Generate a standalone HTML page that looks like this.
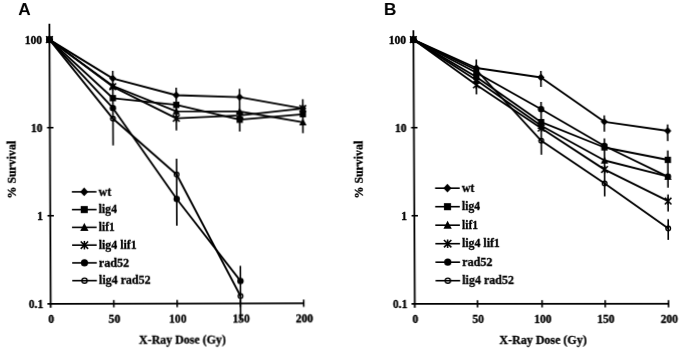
<!DOCTYPE html>
<html><head><meta charset="utf-8"><title>Figure</title>
<style>html,body{margin:0;padding:0;background:#fff}svg{display:block}</style></head>
<body>
<svg width="685" height="354" viewBox="0 0 685 354">
<rect width="685" height="354" fill="#fff"/>
<g style="filter:blur(0.3px)">
<g transform="matrix(1 -0.0024 0.0046 1 -0.1095 0.1186)">
<path d="M49.40 23.80L49.40 307.7" stroke="#000" stroke-width="1.8" fill="none"/>
<path d="M46.20 303.8L302.40 303.8" stroke="#000" stroke-width="1.8" fill="none"/>
<path d="M46.60 39.60L53.00 39.60" stroke="#000" stroke-width="1.6"/>
<text transform="translate(42.00 43.80) scale(0.95 1)" text-anchor="end" stroke="#000" stroke-width="0.35" font-family='"Liberation Serif", serif' font-weight="bold" font-size="12.2px">100</text>
<path d="M46.60 127.67L53.00 127.67" stroke="#000" stroke-width="1.6"/>
<text transform="translate(42.00 131.87) scale(0.95 1)" text-anchor="end" stroke="#000" stroke-width="0.35" font-family='"Liberation Serif", serif' font-weight="bold" font-size="12.2px">10</text>
<path d="M46.60 215.73L53.00 215.73" stroke="#000" stroke-width="1.6"/>
<text transform="translate(42.00 219.93) scale(0.95 1)" text-anchor="end" stroke="#000" stroke-width="0.35" font-family='"Liberation Serif", serif' font-weight="bold" font-size="12.2px">1</text>
<text transform="translate(42.00 308.00) scale(0.95 1)" text-anchor="end" stroke="#000" stroke-width="0.35" font-family='"Liberation Serif", serif' font-weight="bold" font-size="12.2px">0.1</text>
<path d="M112.55 300.2L112.55 307.5" stroke="#000" stroke-width="1.6"/>
<path d="M175.90 300.2L175.90 307.5" stroke="#000" stroke-width="1.6"/>
<path d="M239.30 300.2L239.30 307.5" stroke="#000" stroke-width="1.6"/>
<path d="M302.45 300.2L302.45 307.5" stroke="#000" stroke-width="1.6"/>
<text transform="translate(50.00 323.0) scale(0.95 1)" text-anchor="middle" stroke="#000" stroke-width="0.35" font-family='"Liberation Serif", serif' font-weight="bold" font-size="12.2px">0</text>
<text transform="translate(113.15 323.0) scale(0.95 1)" text-anchor="middle" stroke="#000" stroke-width="0.35" font-family='"Liberation Serif", serif' font-weight="bold" font-size="12.2px">50</text>
<text transform="translate(176.50 323.0) scale(0.95 1)" text-anchor="middle" stroke="#000" stroke-width="0.35" font-family='"Liberation Serif", serif' font-weight="bold" font-size="12.2px">100</text>
<text transform="translate(239.90 323.0) scale(0.95 1)" text-anchor="middle" stroke="#000" stroke-width="0.35" font-family='"Liberation Serif", serif' font-weight="bold" font-size="12.2px">150</text>
<text transform="translate(303.05 323.0) scale(0.95 1)" text-anchor="middle" stroke="#000" stroke-width="0.35" font-family='"Liberation Serif", serif' font-weight="bold" font-size="12.2px">200</text>
<text x="181.00" y="343.5" text-anchor="middle" textLength="86.8" lengthAdjust="spacingAndGlyphs" stroke="#000" stroke-width="0.3" font-family='"Liberation Serif", serif' font-weight="bold" font-size="12px">X-Ray Dose (Gy)</text>
<text transform="translate(14.70 169.6) rotate(-90)" text-anchor="middle" textLength="57.7" lengthAdjust="spacingAndGlyphs" stroke="#000" stroke-width="0.3" font-family='"Liberation Serif", serif' font-weight="bold" font-size="12px">% Survival</text>
<text x="18.30" y="15.4" font-family='"Liberation Sans", sans-serif' font-weight="bold" font-size="17.3px">A</text>
<path d="M112.55 71.00L112.55 145.60" stroke="#000" stroke-width="1.6"/>
<path d="M175.90 88.00L175.90 130.80" stroke="#000" stroke-width="1.6"/>
<path d="M239.30 89.30L239.30 132.00" stroke="#000" stroke-width="1.6"/>
<path d="M302.45 99.80L302.45 133.80" stroke="#000" stroke-width="1.6"/>
<path d="M175.90 158.90L175.90 225.90" stroke="#000" stroke-width="1.6"/>
<path d="M239.30 266.30L239.30 321.00" stroke="#000" stroke-width="1.6"/>
<path d="M49.40 39.60 L112.55 78.60 L175.90 95.50 L239.30 97.60 L302.45 109.20" stroke="#000" stroke-width="1.85" fill="none" stroke-linejoin="round"/>
<path d="M49.40 39.60 L112.55 98.30 L175.90 105.20 L239.30 120.20 L302.45 114.80" stroke="#000" stroke-width="1.85" fill="none" stroke-linejoin="round"/>
<path d="M49.40 39.60 L112.55 86.00 L175.90 111.60 L239.30 111.90 L302.45 122.90" stroke="#000" stroke-width="1.85" fill="none" stroke-linejoin="round"/>
<path d="M49.40 39.60 L112.55 86.80 L175.90 118.60 L239.30 115.80 L302.45 109.20" stroke="#000" stroke-width="1.85" fill="none" stroke-linejoin="round"/>
<path d="M49.40 39.60 L112.55 108.20 L175.90 199.20 L239.30 281.40" stroke="#000" stroke-width="1.85" fill="none" stroke-linejoin="round"/>
<path d="M49.40 39.60 L112.55 118.80 L175.90 174.80 L239.30 296.50" stroke="#000" stroke-width="1.85" fill="none" stroke-linejoin="round"/>
<path d="M49.40 35.70L53.00 39.60L49.40 43.50L45.80 39.60Z" fill="#000"/>
<path d="M112.55 74.70L116.15 78.60L112.55 82.50L108.95 78.60Z" fill="#000"/>
<path d="M175.90 91.60L179.50 95.50L175.90 99.40L172.30 95.50Z" fill="#000"/>
<path d="M239.30 93.70L242.90 97.60L239.30 101.50L235.70 97.60Z" fill="#000"/>
<path d="M302.45 105.30L306.05 109.20L302.45 113.10L298.85 109.20Z" fill="#000"/>
<rect x="46.25" y="36.45" width="6.30" height="6.30" fill="#000"/>
<rect x="109.40" y="95.15" width="6.30" height="6.30" fill="#000"/>
<rect x="172.75" y="102.05" width="6.30" height="6.30" fill="#000"/>
<rect x="236.15" y="117.05" width="6.30" height="6.30" fill="#000"/>
<rect x="299.30" y="111.65" width="6.30" height="6.30" fill="#000"/>
<path d="M49.40 35.60L53.10 42.80L45.70 42.80Z" fill="#000"/>
<path d="M112.55 82.00L116.25 89.20L108.85 89.20Z" fill="#000"/>
<path d="M175.90 107.60L179.60 114.80L172.20 114.80Z" fill="#000"/>
<path d="M239.30 107.90L243.00 115.10L235.60 115.10Z" fill="#000"/>
<path d="M302.45 118.90L306.15 126.10L298.75 126.10Z" fill="#000"/>
<path d="M46.10 36.30L52.70 42.90M46.10 42.90L52.70 36.30M49.40 35.70L49.40 43.50" stroke="#000" stroke-width="1.55" fill="none"/>
<path d="M109.25 83.50L115.85 90.10M109.25 90.10L115.85 83.50M112.55 82.90L112.55 90.70" stroke="#000" stroke-width="1.55" fill="none"/>
<path d="M172.60 115.30L179.20 121.90M172.60 121.90L179.20 115.30M175.90 114.70L175.90 122.50" stroke="#000" stroke-width="1.55" fill="none"/>
<path d="M236.00 112.50L242.60 119.10M236.00 119.10L242.60 112.50M239.30 111.90L239.30 119.70" stroke="#000" stroke-width="1.55" fill="none"/>
<path d="M299.15 105.90L305.75 112.50M299.15 112.50L305.75 105.90M302.45 105.30L302.45 113.10" stroke="#000" stroke-width="1.55" fill="none"/>
<circle cx="49.40" cy="39.60" r="3.20" fill="#000"/>
<circle cx="112.55" cy="108.20" r="3.20" fill="#000"/>
<circle cx="175.90" cy="199.20" r="3.20" fill="#000"/>
<circle cx="239.30" cy="281.40" r="3.20" fill="#000"/>
<circle cx="49.40" cy="39.60" r="2.30" fill="none" stroke="#000" stroke-width="1.4"/>
<circle cx="112.55" cy="118.80" r="2.30" fill="none" stroke="#000" stroke-width="1.4"/>
<circle cx="175.90" cy="174.80" r="2.30" fill="none" stroke="#000" stroke-width="1.4"/>
<circle cx="239.30" cy="296.50" r="2.30" fill="none" stroke="#000" stroke-width="1.4"/>
<path d="M71.10 191.90L95.70 191.90" stroke="#000" stroke-width="1.6"/>
<path d="M83.40 187.53L87.43 191.90L83.40 196.27L79.37 191.90Z" fill="#000"/>
<text x="97.80" y="195.50" textLength="12.6" lengthAdjust="spacingAndGlyphs" stroke="#000" stroke-width="0.3" font-family='"Liberation Serif", serif' font-weight="bold" font-size="12.4px">wt</text>
<path d="M71.10 209.66L95.70 209.66" stroke="#000" stroke-width="1.6"/>
<rect x="79.87" y="206.13" width="7.06" height="7.06" fill="#000"/>
<text x="97.80" y="213.26" textLength="18.2" lengthAdjust="spacingAndGlyphs" stroke="#000" stroke-width="0.3" font-family='"Liberation Serif", serif' font-weight="bold" font-size="12.4px">lig4</text>
<path d="M71.10 227.42L95.70 227.42" stroke="#000" stroke-width="1.6"/>
<path d="M83.40 222.94L87.54 231.00L79.26 231.00Z" fill="#000"/>
<text x="97.80" y="231.02" textLength="16.0" lengthAdjust="spacingAndGlyphs" stroke="#000" stroke-width="0.3" font-family='"Liberation Serif", serif' font-weight="bold" font-size="12.4px">lif1</text>
<path d="M71.10 245.18L95.70 245.18" stroke="#000" stroke-width="1.6"/>
<path d="M79.70 241.48L87.10 248.88M79.70 248.88L87.10 241.48M83.40 240.88L83.40 249.48" stroke="#000" stroke-width="1.55" fill="none"/>
<text x="97.80" y="248.78" textLength="37.8" lengthAdjust="spacingAndGlyphs" stroke="#000" stroke-width="0.3" font-family='"Liberation Serif", serif' font-weight="bold" font-size="12.4px">lig4 lif1</text>
<path d="M71.10 262.94L95.70 262.94" stroke="#000" stroke-width="1.6"/>
<circle cx="83.40" cy="262.94" r="3.58" fill="#000"/>
<text x="97.80" y="266.54" textLength="30.4" lengthAdjust="spacingAndGlyphs" stroke="#000" stroke-width="0.3" font-family='"Liberation Serif", serif' font-weight="bold" font-size="12.4px">rad52</text>
<path d="M71.10 280.70L95.70 280.70" stroke="#000" stroke-width="1.6"/>
<circle cx="83.40" cy="280.70" r="2.58" fill="none" stroke="#000" stroke-width="1.4"/>
<text x="97.80" y="284.30" textLength="51.8" lengthAdjust="spacingAndGlyphs" stroke="#000" stroke-width="0.3" font-family='"Liberation Serif", serif' font-weight="bold" font-size="12.4px">lig4 rad52</text>
</g>
<g transform="matrix(1 -0.0005 0.0051 1 -0.1545 0.2067)">
<path d="M413.40 30.30L413.40 307.7" stroke="#000" stroke-width="1.8" fill="none"/>
<path d="M410.20 303.8L667.30 303.8" stroke="#000" stroke-width="1.8" fill="none"/>
<path d="M410.60 39.60L417.00 39.60" stroke="#000" stroke-width="1.6"/>
<text transform="translate(406.00 43.80) scale(0.95 1)" text-anchor="end" stroke="#000" stroke-width="0.35" font-family='"Liberation Serif", serif' font-weight="bold" font-size="12.2px">100</text>
<path d="M410.60 127.67L417.00 127.67" stroke="#000" stroke-width="1.6"/>
<text transform="translate(406.00 131.87) scale(0.95 1)" text-anchor="end" stroke="#000" stroke-width="0.35" font-family='"Liberation Serif", serif' font-weight="bold" font-size="12.2px">10</text>
<path d="M410.60 215.73L417.00 215.73" stroke="#000" stroke-width="1.6"/>
<text transform="translate(406.00 219.93) scale(0.95 1)" text-anchor="end" stroke="#000" stroke-width="0.35" font-family='"Liberation Serif", serif' font-weight="bold" font-size="12.2px">1</text>
<text transform="translate(406.00 308.00) scale(0.95 1)" text-anchor="end" stroke="#000" stroke-width="0.35" font-family='"Liberation Serif", serif' font-weight="bold" font-size="12.2px">0.1</text>
<path d="M476.20 300.2L476.20 307.5" stroke="#000" stroke-width="1.6"/>
<path d="M540.70 300.2L540.70 307.5" stroke="#000" stroke-width="1.6"/>
<path d="M603.80 300.2L603.80 307.5" stroke="#000" stroke-width="1.6"/>
<path d="M667.20 300.2L667.20 307.5" stroke="#000" stroke-width="1.6"/>
<text transform="translate(413.90 323.0) scale(0.95 1)" text-anchor="middle" stroke="#000" stroke-width="0.35" font-family='"Liberation Serif", serif' font-weight="bold" font-size="12.2px">0</text>
<text transform="translate(476.80 323.0) scale(0.95 1)" text-anchor="middle" stroke="#000" stroke-width="0.35" font-family='"Liberation Serif", serif' font-weight="bold" font-size="12.2px">50</text>
<text transform="translate(541.30 323.0) scale(0.95 1)" text-anchor="middle" stroke="#000" stroke-width="0.35" font-family='"Liberation Serif", serif' font-weight="bold" font-size="12.2px">100</text>
<text transform="translate(604.40 323.0) scale(0.95 1)" text-anchor="middle" stroke="#000" stroke-width="0.35" font-family='"Liberation Serif", serif' font-weight="bold" font-size="12.2px">150</text>
<text transform="translate(667.80 323.0) scale(0.95 1)" text-anchor="middle" stroke="#000" stroke-width="0.35" font-family='"Liberation Serif", serif' font-weight="bold" font-size="12.2px">200</text>
<text x="541.50" y="344.1" text-anchor="middle" textLength="87.4" lengthAdjust="spacingAndGlyphs" stroke="#000" stroke-width="0.3" font-family='"Liberation Serif", serif' font-weight="bold" font-size="12px">X-Ray Dose (Gy)</text>
<text transform="translate(361.90 169.6) rotate(-90)" text-anchor="middle" textLength="57.7" lengthAdjust="spacingAndGlyphs" stroke="#000" stroke-width="0.3" font-family='"Liberation Serif", serif' font-weight="bold" font-size="12px">% Survival</text>
<text x="384.00" y="14.5" font-family='"Liberation Sans", sans-serif' font-weight="bold" font-size="17.3px">B</text>
<path d="M476.20 59.50L476.20 94.40" stroke="#000" stroke-width="1.6"/>
<path d="M540.70 71.00L540.70 87.00" stroke="#000" stroke-width="1.6"/>
<path d="M540.70 102.00L540.70 154.80" stroke="#000" stroke-width="1.6"/>
<path d="M603.80 115.60L603.80 131.80" stroke="#000" stroke-width="1.6"/>
<path d="M603.80 138.60L603.80 196.60" stroke="#000" stroke-width="1.6"/>
<path d="M667.20 124.60L667.20 141.20" stroke="#000" stroke-width="1.6"/>
<path d="M667.20 150.60L667.20 187.80" stroke="#000" stroke-width="1.6"/>
<path d="M667.20 194.60L667.20 211.60" stroke="#000" stroke-width="1.6"/>
<path d="M667.20 219.30L667.20 240.00" stroke="#000" stroke-width="1.6"/>
<path d="M413.30 39.60 L476.20 68.00 L540.70 77.50 L603.80 121.80 L667.20 131.00" stroke="#000" stroke-width="1.85" fill="none" stroke-linejoin="round"/>
<path d="M413.30 39.60 L476.20 77.00 L540.70 122.20 L603.80 147.50 L667.20 160.00" stroke="#000" stroke-width="1.85" fill="none" stroke-linejoin="round"/>
<path d="M413.30 39.60 L476.20 80.30 L540.70 125.80 L603.80 160.50 L667.20 176.70" stroke="#000" stroke-width="1.85" fill="none" stroke-linejoin="round"/>
<path d="M413.30 39.60 L476.20 85.00 L540.70 128.20 L603.80 169.60 L667.20 201.20" stroke="#000" stroke-width="1.85" fill="none" stroke-linejoin="round"/>
<path d="M413.30 39.60 L476.20 72.80 L540.70 109.30 L603.80 146.00 L667.20 176.80" stroke="#000" stroke-width="1.85" fill="none" stroke-linejoin="round"/>
<path d="M413.30 39.60 L476.20 70.00 L540.70 140.80 L603.80 183.60 L667.20 228.50" stroke="#000" stroke-width="1.85" fill="none" stroke-linejoin="round"/>
<path d="M413.30 35.70L416.90 39.60L413.30 43.50L409.70 39.60Z" fill="#000"/>
<path d="M476.20 64.10L479.80 68.00L476.20 71.90L472.60 68.00Z" fill="#000"/>
<path d="M540.70 73.60L544.30 77.50L540.70 81.40L537.10 77.50Z" fill="#000"/>
<path d="M603.80 117.90L607.40 121.80L603.80 125.70L600.20 121.80Z" fill="#000"/>
<path d="M667.20 127.10L670.80 131.00L667.20 134.90L663.60 131.00Z" fill="#000"/>
<rect x="410.15" y="36.45" width="6.30" height="6.30" fill="#000"/>
<rect x="473.05" y="73.85" width="6.30" height="6.30" fill="#000"/>
<rect x="537.55" y="119.05" width="6.30" height="6.30" fill="#000"/>
<rect x="600.65" y="144.35" width="6.30" height="6.30" fill="#000"/>
<rect x="664.05" y="156.85" width="6.30" height="6.30" fill="#000"/>
<path d="M413.30 35.60L417.00 42.80L409.60 42.80Z" fill="#000"/>
<path d="M476.20 76.30L479.90 83.50L472.50 83.50Z" fill="#000"/>
<path d="M540.70 121.80L544.40 129.00L537.00 129.00Z" fill="#000"/>
<path d="M603.80 156.50L607.50 163.70L600.10 163.70Z" fill="#000"/>
<path d="M667.20 172.70L670.90 179.90L663.50 179.90Z" fill="#000"/>
<path d="M410.00 36.30L416.60 42.90M410.00 42.90L416.60 36.30M413.30 35.70L413.30 43.50" stroke="#000" stroke-width="1.55" fill="none"/>
<path d="M472.90 81.70L479.50 88.30M472.90 88.30L479.50 81.70M476.20 81.10L476.20 88.90" stroke="#000" stroke-width="1.55" fill="none"/>
<path d="M537.40 124.90L544.00 131.50M537.40 131.50L544.00 124.90M540.70 124.30L540.70 132.10" stroke="#000" stroke-width="1.55" fill="none"/>
<path d="M600.50 166.30L607.10 172.90M600.50 172.90L607.10 166.30M603.80 165.70L603.80 173.50" stroke="#000" stroke-width="1.55" fill="none"/>
<path d="M663.90 197.90L670.50 204.50M663.90 204.50L670.50 197.90M667.20 197.30L667.20 205.10" stroke="#000" stroke-width="1.55" fill="none"/>
<circle cx="413.30" cy="39.60" r="3.20" fill="#000"/>
<circle cx="476.20" cy="72.80" r="3.20" fill="#000"/>
<circle cx="540.70" cy="109.30" r="3.20" fill="#000"/>
<circle cx="603.80" cy="146.00" r="3.20" fill="#000"/>
<circle cx="667.20" cy="176.80" r="3.20" fill="#000"/>
<circle cx="413.30" cy="39.60" r="2.30" fill="none" stroke="#000" stroke-width="1.4"/>
<circle cx="476.20" cy="70.00" r="2.30" fill="none" stroke="#000" stroke-width="1.4"/>
<circle cx="540.70" cy="140.80" r="2.30" fill="none" stroke="#000" stroke-width="1.4"/>
<circle cx="603.80" cy="183.60" r="2.30" fill="none" stroke="#000" stroke-width="1.4"/>
<circle cx="667.20" cy="228.50" r="2.30" fill="none" stroke="#000" stroke-width="1.4"/>
<path d="M434.30 188.20L458.90 188.20" stroke="#000" stroke-width="1.6"/>
<path d="M446.60 183.83L450.63 188.20L446.60 192.57L442.57 188.20Z" fill="#000"/>
<text x="461.00" y="191.80" textLength="12.6" lengthAdjust="spacingAndGlyphs" stroke="#000" stroke-width="0.3" font-family='"Liberation Serif", serif' font-weight="bold" font-size="12.4px">wt</text>
<path d="M434.30 206.70L458.90 206.70" stroke="#000" stroke-width="1.6"/>
<rect x="443.07" y="203.17" width="7.06" height="7.06" fill="#000"/>
<text x="461.00" y="210.30" textLength="18.2" lengthAdjust="spacingAndGlyphs" stroke="#000" stroke-width="0.3" font-family='"Liberation Serif", serif' font-weight="bold" font-size="12.4px">lig4</text>
<path d="M434.30 225.20L458.90 225.20" stroke="#000" stroke-width="1.6"/>
<path d="M446.60 220.72L450.74 228.78L442.46 228.78Z" fill="#000"/>
<text x="461.00" y="228.80" textLength="16.0" lengthAdjust="spacingAndGlyphs" stroke="#000" stroke-width="0.3" font-family='"Liberation Serif", serif' font-weight="bold" font-size="12.4px">lif1</text>
<path d="M434.30 243.70L458.90 243.70" stroke="#000" stroke-width="1.6"/>
<path d="M442.90 240.00L450.30 247.40M442.90 247.40L450.30 240.00M446.60 239.40L446.60 248.00" stroke="#000" stroke-width="1.55" fill="none"/>
<text x="461.00" y="247.30" textLength="37.8" lengthAdjust="spacingAndGlyphs" stroke="#000" stroke-width="0.3" font-family='"Liberation Serif", serif' font-weight="bold" font-size="12.4px">lig4 lif1</text>
<path d="M434.30 262.20L458.90 262.20" stroke="#000" stroke-width="1.6"/>
<circle cx="446.60" cy="262.20" r="3.58" fill="#000"/>
<text x="461.00" y="265.80" textLength="30.4" lengthAdjust="spacingAndGlyphs" stroke="#000" stroke-width="0.3" font-family='"Liberation Serif", serif' font-weight="bold" font-size="12.4px">rad52</text>
<path d="M434.30 280.70L458.90 280.70" stroke="#000" stroke-width="1.6"/>
<circle cx="446.60" cy="280.70" r="2.58" fill="none" stroke="#000" stroke-width="1.4"/>
<text x="461.00" y="284.30" textLength="51.8" lengthAdjust="spacingAndGlyphs" stroke="#000" stroke-width="0.3" font-family='"Liberation Serif", serif' font-weight="bold" font-size="12.4px">lig4 rad52</text>
</g>
</g>
</svg>
</body></html>
